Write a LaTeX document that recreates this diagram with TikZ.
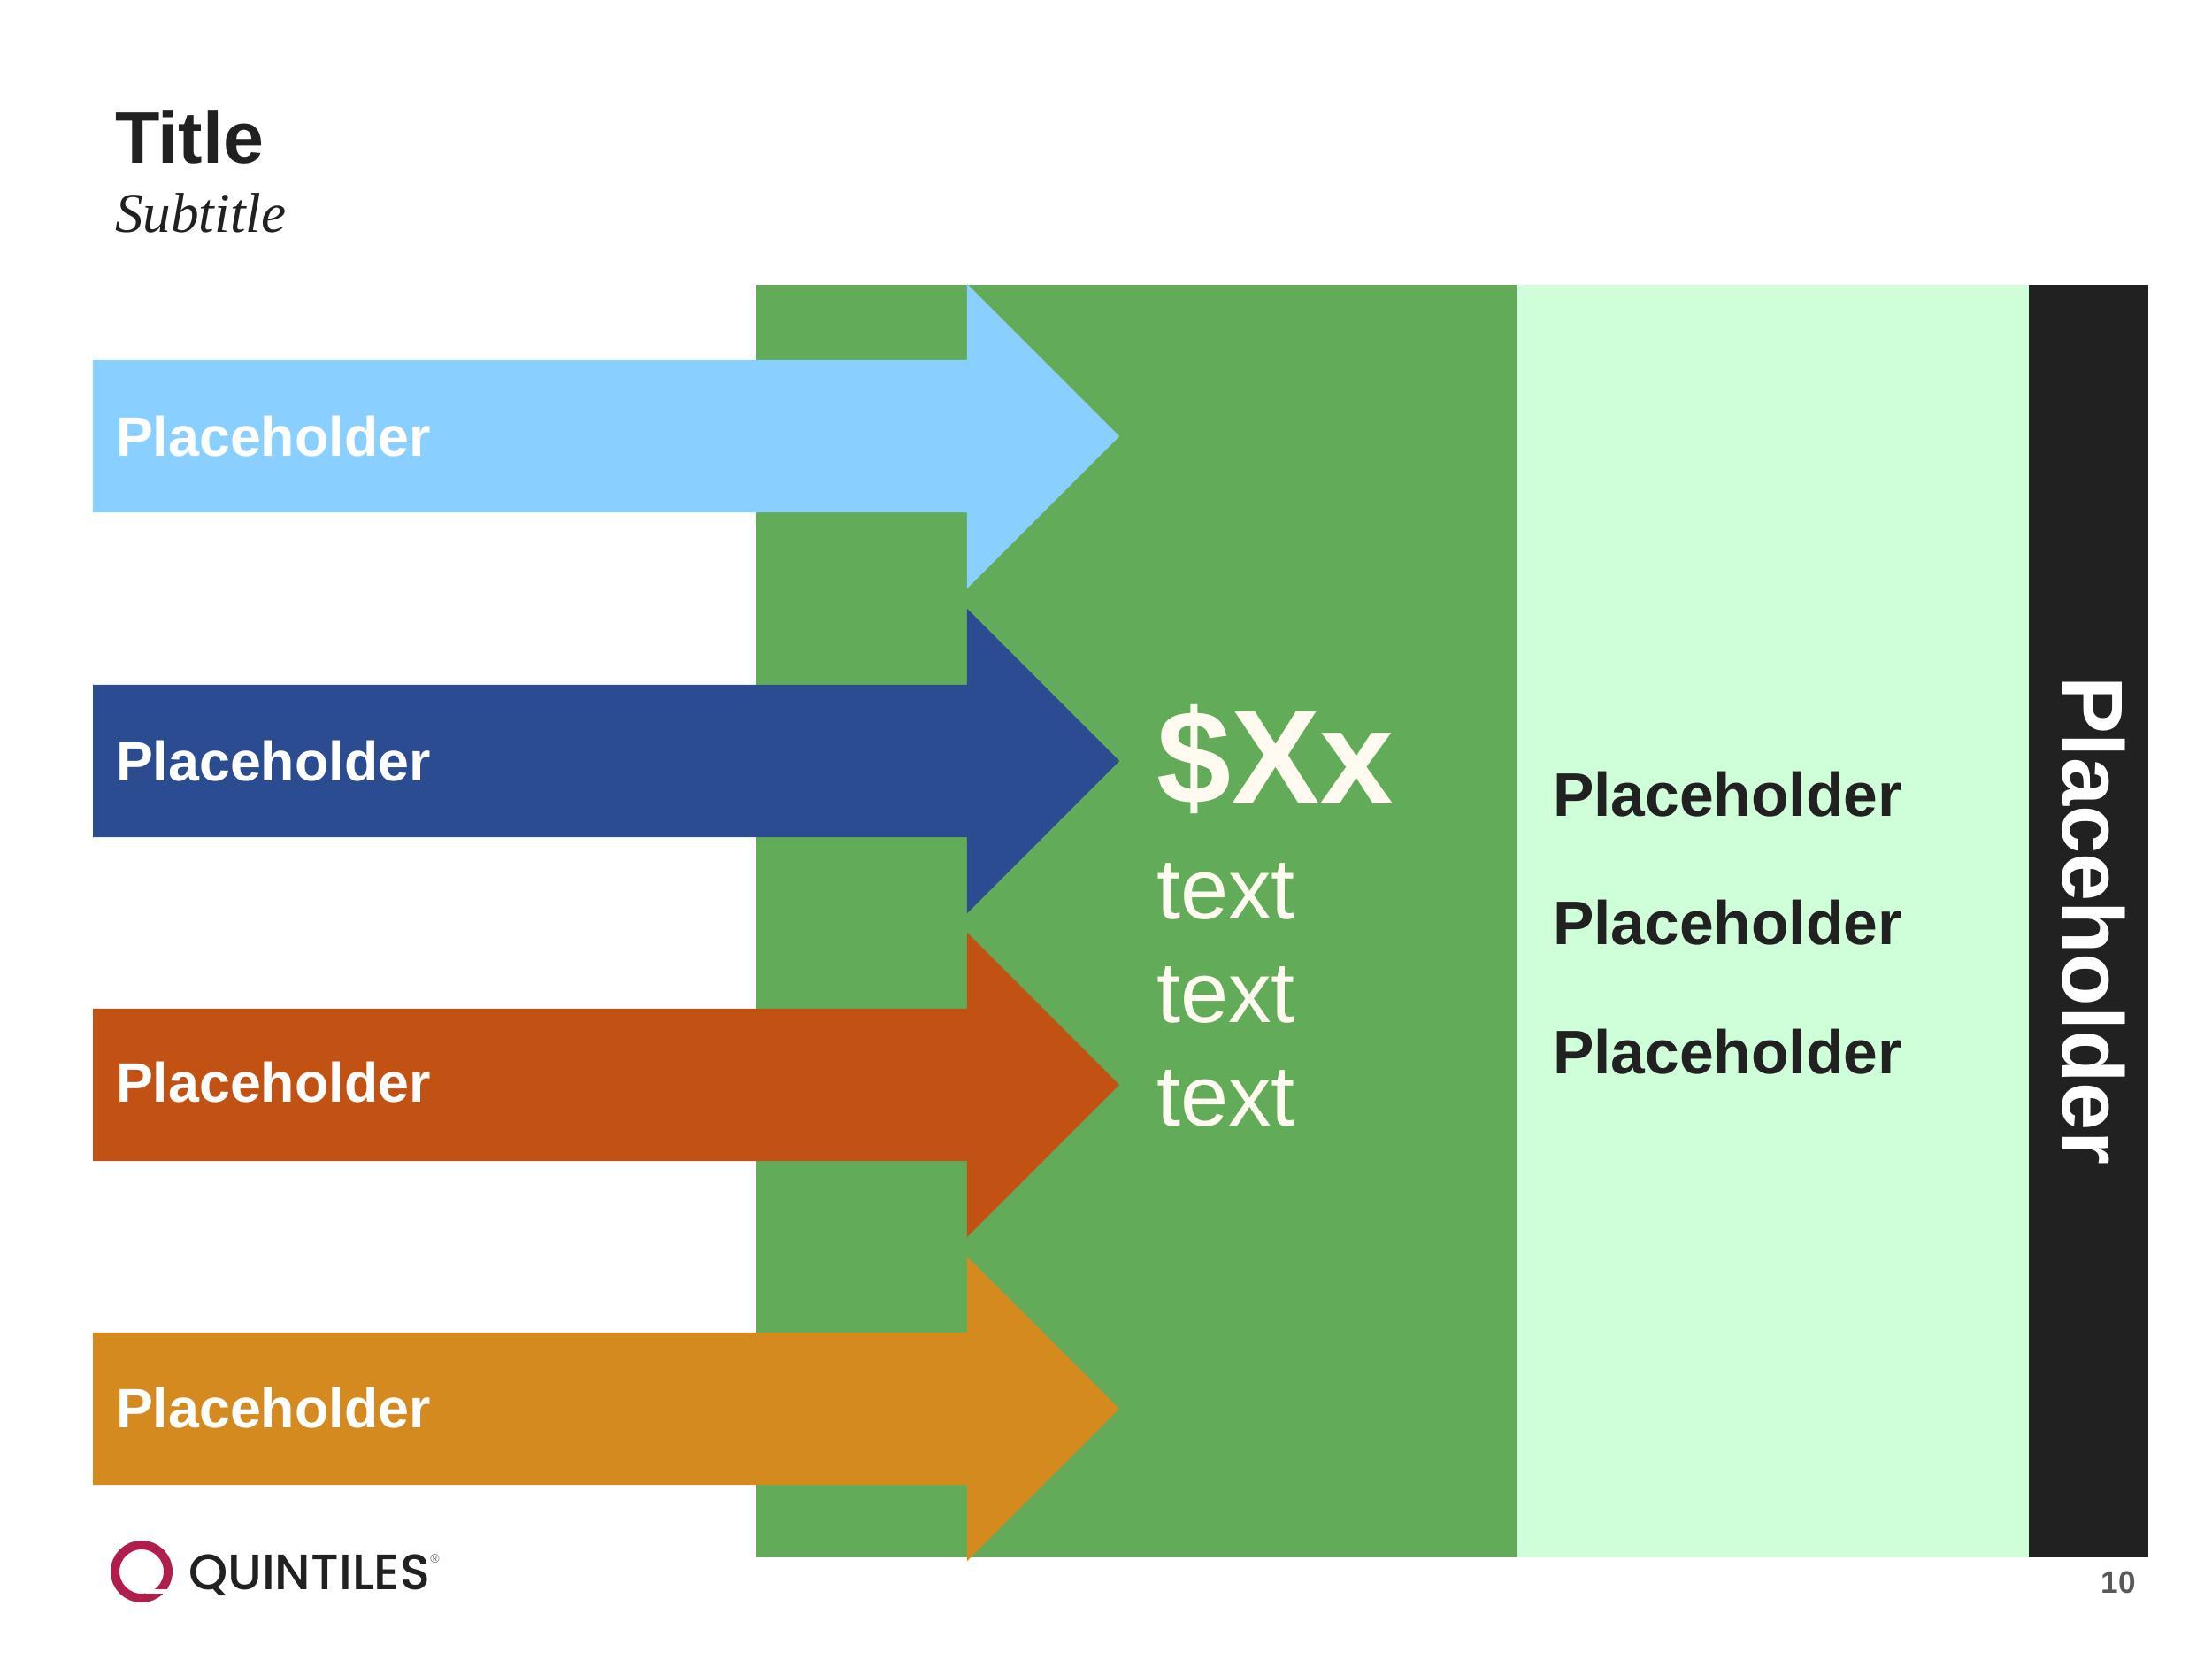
\documentclass[tikz,border=0pt]{standalone}
\usepackage{fontspec}
\setmainfont{Liberation Sans}
\newfontfamily\subtitlefont{Liberation Serif}
\newfontfamily\logofont[UprightFont={* Medium}]{Poppins}
\usepackage{xcolor}
\usetikzlibrary{positioning,shapes.arrows}

\definecolor{skyarrow}{HTML}{89CFFF}
\definecolor{navyarrow}{HTML}{2B4C91}
\definecolor{rustarrow}{HTML}{C25214}
\definecolor{amberarrow}{HTML}{D58A1F}
\definecolor{midgreen}{HTML}{62AC59}
\definecolor{palegreen}{HTML}{CFFFD9}
\definecolor{nearblack}{HTML}{212121}
\definecolor{cream}{HTML}{FFFBF0}
\definecolor{ringred}{HTML}{B01E4B}

\newcommand{\fs}[1]{\fontsize{#1}{#1}\selectfont}

\begin{document}
\begin{tikzpicture}[every node/.style={inner sep=0pt, outer sep=0pt},
  panel/.style={minimum height=14.38cm},
  bigarrow/.style={single arrow, anchor=tail, minimum width=3.43cm, minimum height=11.60cm,
                   text height=0.855cm, text depth=0.855cm,
                   single arrow head extend=0.86cm, single arrow head indent=0cm},
  arrowlabel/.style={anchor=west, text=white, font=\fs{17.85}\bfseries},
  sidelabel/.style={anchor=west, text=nearblack, font=\fs{19.8}\bfseries},
  amounttext/.style={anchor=west, text=cream, font=\fs{27.7}}]

  \useasboundingbox (0,0) rectangle (25,18.75);

  \node[anchor=base west, text=nearblack, font=\fs{23.5}\bfseries] (title) at (1.30, 16.90) {Title};
  \node[anchor=base west, text=nearblack, font=\fs{18}\subtitlefont\itshape] (subtitle) at (1.30, 16.12) {Subtitle};

  % panels
  \node[panel, fill=midgreen, minimum width=8.60cm]  (gbox) at (12.84, 8.34) {};
  \node[panel, fill=palegreen, minimum width=5.79cm] (lbox) at (20.035, 8.34) {};
  \node[panel, fill=nearblack, minimum width=1.35cm] (dbox) at (23.605, 8.34) {};

  % arrows
  \node[bigarrow, fill=skyarrow]   (a1) at (1.05, 13.82) {};
  \node[bigarrow, fill=navyarrow]  (a2) at (1.05, 10.15) {};
  \node[bigarrow, fill=rustarrow]  (a3) at (1.05,  6.49) {};
  \node[bigarrow, fill=amberarrow] (a4) at (1.05,  2.83) {};

  \node[arrowlabel] (l1) at (1.31, 13.82) {Placeholder};
  \node[arrowlabel] (l2) at (1.31, 10.15) {Placeholder};
  \node[arrowlabel] (l3) at (1.31,  6.52) {Placeholder};
  \node[arrowlabel] (l4) at (1.31,  2.84) {Placeholder};

  % middle text
  \node[anchor=west, text=cream, font=\fs{43}\bfseries] (amount) at (13.07, 10.17) {\$Xx};
  \node[amounttext] (t1) at (13.07, 8.67) {text};
  \node[amounttext] (t2) at (13.07, 7.51) {text};
  \node[amounttext] (t3) at (13.07, 6.34) {text};

  \node[sidelabel] (s1) at (17.55, 9.77) {Placeholder};
  \node[sidelabel] (s2) at (17.55, 8.32) {Placeholder};
  \node[sidelabel] (s3) at (17.55, 6.86) {Placeholder};

  \node[rotate=-90, text=white, font=\fs{27.7}\bfseries] (vlabel) at (23.66, 8.35) {Placeholder};

  % logo
  \node[circle, draw=ringred, line width=0.10cm, minimum size=0.60cm] (ring) at (1.60, 0.99) {};
  \fill[white] (ring.center) ++(0.05,-0.20) rectangle ++(0.40,-0.05);
  \node[anchor=base west, text=nearblack, font=\fs{16}\logofont] (logo) at (2.13, 0.79) {QUINTILES};
  \node[anchor=north west, text=nearblack!70, font=\fs{4}] (reg) at (logo.north east) {®};

  \node[text=black!65, font=\fs{10}\bfseries] (page) at (23.94, 0.87) {10};
\end{tikzpicture}
\end{document}
